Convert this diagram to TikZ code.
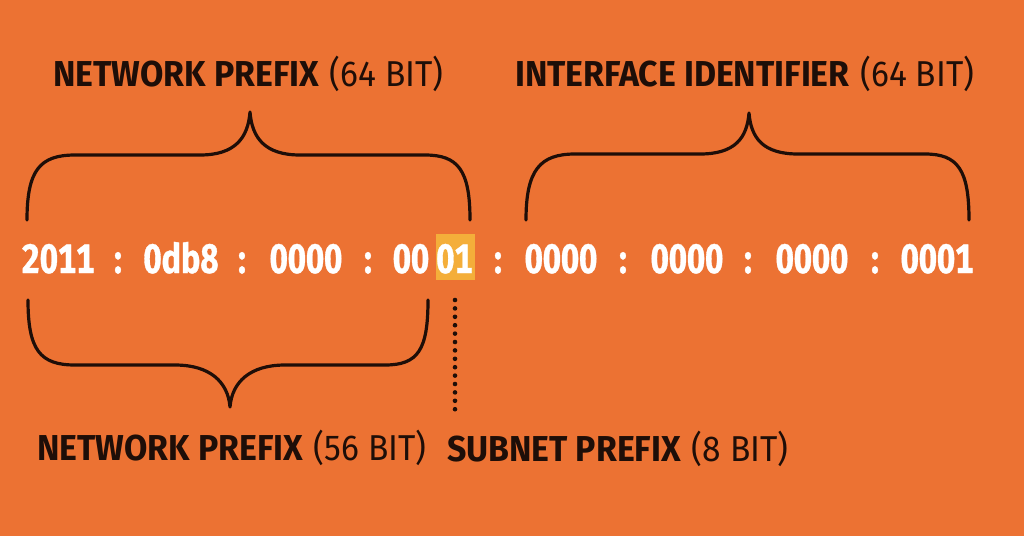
\documentclass[tikz,border=0pt]{standalone}
\usepackage{fontspec}
\newfontfamily\labfont[FakeStretch=0.94]{Fira Sans}
\newfontfamily\parfont[FakeStretch=0.93]{Fira Sans}
\newfontfamily\addrfont[FakeStretch=0.79,Numbers=Monospaced,FakeBold=0.8]{Fira Sans}
\definecolor{bg}{HTML}{EC7233}
\definecolor{ink}{HTML}{1E0E08}
\definecolor{hl}{HTML}{F4AE3A}
\tikzset{
  lab/.style={text=ink, font=\fontsize{36}{36}\selectfont, anchor=base west, inner sep=0pt},
  addr/.style={text=white, font=\addrfont\bfseries\fontsize{41}{41}\selectfont, anchor=base, inner sep=0pt},
  bracepath/.style={draw=ink, line width=3.2pt, line cap=round, line join=round},
  dotline/.style={draw=ink, line width=4.6pt, line cap=round, dash pattern=on 0pt off 8.4pt},
}
\newcommand{\bpart}[1]{{\labfont\bfseries #1}}
\newcommand{\ppart}[1]{{\parfont #1}}
\begin{document}
\begin{tikzpicture}[x=1pt,y=-1pt]
\fill[bg] (0,0) rectangle (1024,536);
\useasboundingbox (0,0) rectangle (1024,536);

% highlight box
\node[fill=hl, minimum width=39pt, minimum height=46pt, inner sep=0pt] (hlbox) at (455.5,257) {};

% address
\node[addr] (g1) at (58,273) {2011};
\node[addr] (c1) at (118,273) {:};
\node[addr] (g2) at (181,273) {0db8};
\node[addr] (c2) at (242,273) {:};
\node[addr] (g3) at (306,273) {0000};
\node[addr] (c3) at (368,273) {:};
\node[addr] (g4a) at (411,273) {00};
\node[addr] (g4b) at (454.5,273) {01};
\node[addr] (c4) at (498,273) {:};
\node[addr] (g5) at (561,273) {0000};
\node[addr] (c5) at (623,273) {:};
\node[addr] (g6) at (687,273) {0000};
\node[addr] (c6) at (748,273) {:};
\node[addr] (g7) at (812,273) {0000};
\node[addr] (c7) at (875,273) {:};
\node[addr] (g8) at (937,273) {0001};

% labels
\node[lab] (tl) at (53,86) {\bpart{NETWORK PREFIX} \ppart{(64 BIT)}};
\node[lab] (tr) at (515,86) {\bpart{INTERFACE IDENTIFIER} \ppart{(64 BIT)}};
\node[lab] (bl) at (37,460) {\bpart{NETWORK PREFIX} \ppart{(56 BIT)}};
\node[lab] (br) at (447,461) {\bpart{SUBNET PREFIX} \ppart{(8 BIT)}};

% braces
\draw[bracepath] (27,220) .. controls (27,170) and (40,155) .. (75,155) -- (200,155)
  .. controls (235,155) and (248,138) .. (250,112)
  .. controls (252,138) and (265,155) .. (300,155) -- (425,155)
  .. controls (458,155) and (470,170) .. (470,220);
\draw[bracepath] (526,220) .. controls (526,170) and (540,154) .. (575,154) -- (700,154)
  .. controls (735,154) and (747,138) .. (749,113)
  .. controls (751,138) and (763,154) .. (798,154) -- (925,154)
  .. controls (958,154) and (969,170) .. (969,220);
\draw[bracepath] (28,300) .. controls (28,350) and (40,365) .. (75,365) -- (175,365)
  .. controls (210,365) and (228,382) .. (230,407)
  .. controls (232,382) and (250,365) .. (285,365) -- (385,365)
  .. controls (418,365) and (428,350) .. (428,300);

% dotted separator
\coordinate (dtop) at (455,300);
\coordinate (dbot) at (455,410);
\draw[dotline] (dtop) -- (dbot);
\end{tikzpicture}
\end{document}
